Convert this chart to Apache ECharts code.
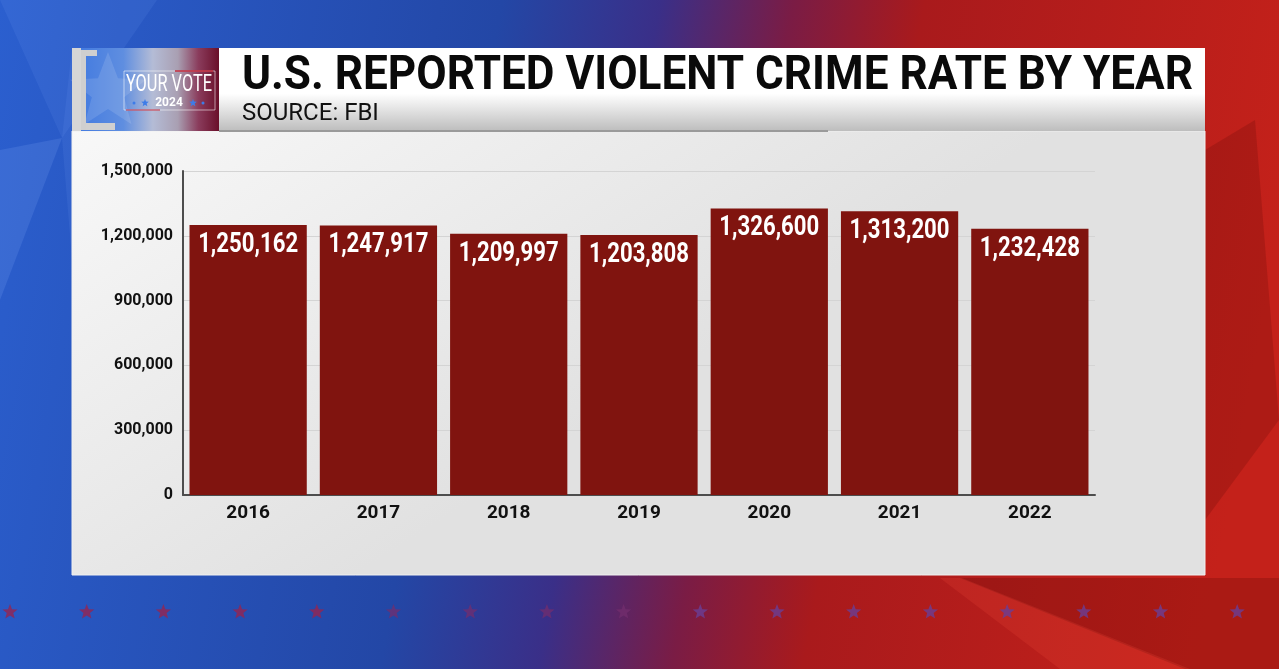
<!DOCTYPE html>
<html>
<head>
<meta charset="utf-8">
<script src="https://cdn.jsdelivr.net/npm/echarts@6/dist/echarts.min.js"></script>
<style>
  html, body { margin: 0; padding: 0; background: #1f3f9a; }
  #main { width: 1279px; height: 669px; }
</style>
</head>
<body>
<div id="main"></div>
<script>
// chart data
const years = ['2016', '2017', '2018', '2019', '2020', '2021', '2022'];
const crimes = [1250162, 1247917, 1209997, 1203808, 1326600, 1313200, 1232428];
const yMin = 0;
const yMax = 1500000;
const yStep = 300000;

const titleText = 'U.S. REPORTED VIOLENT CRIME RATE BY YEAR';
const sourceText = 'SOURCE: FBI';

function fmt(v) {
  return String(v).replace(/\B(?=(\d{3})+(?!\d))/g, ',');
}

// the broadcast font is condensed, so squeeze Roboto to the wanted width
const measureCtx = document.createElement('canvas').getContext('2d');
function squeeze(text, font, width) {
  measureCtx.font = font;
  return Math.min(1, width / measureCtx.measureText(text).width);
}
const titleFont = 'bold 49px Roboto';
const titleScale = squeeze(titleText, titleFont, 951);
const logoFont = '23px Roboto';
const logoScale = squeeze('YOUR VOTE', logoFont, 86);
const labelFont = 'bold 28px Roboto';
const labelScale = squeeze('1,209,997', labelFont, 100);

// 5 point star outline for the decorations
function starPts(cx, cy, R, r) {
  const pts = [];
  for (let i = 0; i < 10; i++) {
    const a = -Math.PI / 2 + i * Math.PI / 5;
    const d = i % 2 ? r : R;
    pts.push([cx + d * Math.cos(a), cy + d * Math.sin(a)]);
  }
  return pts;
}

const deco = [];

// page background
deco.push({
  type: 'rect', z: -100,
  shape: { x: 0, y: 0, width: 1279, height: 669 },
  style: {
    fill: {
      type: 'linear', x: 0, y: 0, x2: 1, y2: 0.35,
      colorStops: [
        { offset: 0, color: '#2b5fcf' },
        { offset: 0.38, color: '#2347a6' },
        { offset: 0.5, color: '#3a2f88' },
        { offset: 0.6, color: '#7a1c45' },
        { offset: 0.7, color: '#a91a1c' },
        { offset: 1, color: '#c4211a' }
      ]
    }
  }
});
// light facets top left
deco.push({ type: 'polygon', z: -99, shape: { points: [[0, 0], [157, 0], [62, 138]] }, style: { fill: 'rgba(140,180,255,0.10)' } });
deco.push({ type: 'polygon', z: -99, shape: { points: [[0, 150], [62, 138], [0, 300]] }, style: { fill: 'rgba(140,180,255,0.16)' } });
deco.push({ type: 'polygon', z: -99, shape: { points: [[62, 138], [72, 48], [72, 260]] }, style: { fill: 'rgba(140,180,255,0.10)' } });
// darker / lighter facets bottom right
deco.push({ type: 'polygon', z: -99, shape: { points: [[960, 578], [1279, 578], [1279, 669], [1185, 669]] }, style: { fill: 'rgba(70,0,0,0.2)' } });
deco.push({ type: 'polygon', z: -99, shape: { points: [[940, 578], [962, 578], [1190, 669], [1060, 669]] }, style: { fill: 'rgba(255,90,70,0.16)' } });
deco.push({ type: 'polygon', z: -99, shape: { points: [[1205, 150], [1255, 120], [1279, 420], [1205, 520]] }, style: { fill: 'rgba(70,0,0,0.18)' } });

// row of stars
for (let k = 0; k < 17; k++) {
  const x = 10 + 76.7 * k;
  const c = k <= 4 ? 'rgba(150,36,80,0.8)' : (k <= 8 ? 'rgba(115,45,110,0.75)' : 'rgba(105,62,150,0.8)');
  deco.push({ type: 'polygon', z: -98, shape: { points: starPts(x, 612, 8, 3.4) }, style: { fill: c } });
}

// chart panel
deco.push({
  type: 'rect', z: -90,
  shape: { x: 72, y: 131, width: 1133, height: 444 },
  style: {
    fill: {
      type: 'linear', x: 0, y: 0, x2: 0.25, y2: 1,
      colorStops: [{ offset: 0, color: '#f8f8f8' }, { offset: 1, color: '#e1e1e1' }]
    },
    stroke: '#f0f0f0', lineWidth: 1
  }
});
// header strip
deco.push({
  type: 'rect', z: -90,
  shape: { x: 219, y: 48, width: 986, height: 83 },
  style: {
    fill: {
      type: 'linear', x: 0, y: 0, x2: 0, y2: 1,
      colorStops: [{ offset: 0, color: '#ffffff' }, { offset: 0.55, color: '#ffffff' }, { offset: 1, color: '#bdbdbd' }]
    }
  }
});
deco.push({ type: 'rect', z: -89, shape: { x: 219, y: 130, width: 609, height: 2 }, style: { fill: '#9a9a9a' } });

// logo block
deco.push({
  type: 'rect', z: -90,
  shape: { x: 72, y: 48, width: 147, height: 83 },
  style: {
    fill: {
      type: 'linear', x: 0, y: 0, x2: 1, y2: 0,
      colorStops: [
        { offset: 0, color: '#3f78e0' },
        { offset: 0.35, color: '#5f8ee0' },
        { offset: 0.55, color: '#b4bcd6' },
        { offset: 0.72, color: '#a99fb2' },
        { offset: 0.86, color: '#8a3c5c' },
        { offset: 1, color: '#6a0f2a' }
      ]
    }
  }
});
deco.push({ type: 'polygon', z: -89, shape: { points: starPts(108, 92, 40, 17) }, style: { fill: 'rgba(255,255,255,0.12)' } });
// bracket
deco.push({ type: 'rect', z: -88, shape: { x: 72, y: 48, width: 9, height: 83 }, style: { fill: '#d6d6d6' } });
deco.push({ type: 'rect', z: -88, shape: { x: 81, y: 50, width: 16, height: 6 }, style: { fill: '#cfcfcf' } });
deco.push({ type: 'rect', z: -88, shape: { x: 81, y: 123, width: 34, height: 7 }, style: { fill: '#d0d0d0' } });
deco.push({ type: 'rect', z: -88, shape: { x: 81, y: 50, width: 5, height: 80 }, style: { fill: '#cfcfcf' } });
// inner frame of the logo
deco.push({ type: 'rect', z: -87, shape: { x: 124, y: 71, width: 91, height: 39 }, style: { fill: 'none', stroke: 'rgba(255,255,255,0.55)', lineWidth: 1 } });
deco.push({ type: 'line', z: -86, shape: { x1: 175, y1: 71, x2: 213, y2: 71 }, style: { stroke: '#c0283a', lineWidth: 1.5 } });
deco.push({ type: 'line', z: -86, shape: { x1: 126, y1: 110, x2: 160, y2: 110 }, style: { stroke: '#c0283a', lineWidth: 1 } });
deco.push({
  type: 'text', z: 10, x: 169, y: 85, scaleX: logoScale,
  style: { text: 'YOUR VOTE', x: 0, y: 0, align: 'center', verticalAlign: 'middle', fill: '#ffffff', font: logoFont }
});
deco.push({
  type: 'text', z: 10, x: 169, y: 103,
  style: { text: '2024', x: 0, y: 0, align: 'center', verticalAlign: 'middle', fill: '#ffffff', font: 'bold 12px Roboto' }
});
deco.push({ type: 'circle', z: 10, shape: { cx: 134, cy: 103, r: 1.5 }, style: { fill: '#3d7ce8' } });
deco.push({ type: 'polygon', z: 10, shape: { points: starPts(145, 103, 4, 1.7) }, style: { fill: '#3d7ce8' } });
deco.push({ type: 'polygon', z: 10, shape: { points: starPts(193, 103, 4, 1.7) }, style: { fill: '#3d7ce8' } });
deco.push({ type: 'circle', z: 10, shape: { cx: 203, cy: 103, r: 1.5 }, style: { fill: '#3d7ce8' } });

// title texts
deco.push({
  type: 'text', z: 10, x: 242, y: 77, scaleX: titleScale,
  style: { text: titleText, x: 0, y: 0, align: 'left', verticalAlign: 'middle', fill: '#0a0a0a', font: titleFont }
});
deco.push({
  type: 'text', z: 10, x: 242, y: 114,
  style: { text: sourceText, x: 0, y: 0, align: 'left', verticalAlign: 'middle', fill: '#111111', font: '24px Roboto' }
});

const chart = echarts.init(document.getElementById('main'));
const option = {
  animation: false,
  graphic: { elements: deco },
  grid: { left: 183, right: 184, top: 171, bottom: 174 },
  xAxis: {
    type: 'category',
    data: years,
    axisTick: { show: false },
    axisLine: { show: true, lineStyle: { color: '#4d4d4d', width: 2 } },
    axisLabel: { color: '#111', fontFamily: 'Roboto', fontWeight: 'bold', fontSize: 19, margin: 9 }
  },
  yAxis: {
    type: 'value',
    min: yMin,
    max: yMax,
    interval: yStep,
    axisTick: { show: false },
    axisLine: { show: true, lineStyle: { color: '#4d4d4d', width: 2 } },
    splitLine: { lineStyle: { color: '#d4d4d4', width: 1 } },
    axisLabel: {
      color: '#111', fontFamily: 'Roboto', fontWeight: 'bold', fontSize: 16, margin: 10,
      formatter: fmt
    }
  },
  series: [
    {
      type: 'bar',
      data: crimes,
      barCategoryGap: '10%',
      itemStyle: { color: '#80140f' }
    },
    {
      // value labels, condensed like the on-air font
      type: 'custom',
      data: crimes.map((v, i) => [i, v]),
      z: 5,
      silent: true,
      renderItem: (params, api) => {
        const p = api.coord([api.value(0), api.value(1)]);
        return {
          type: 'text',
          x: p[0],
          y: p[1] + 6,
          scaleX: labelScale,
          style: {
            text: fmt(api.value(1)),
            x: 0, y: 0,
            align: 'center',
            verticalAlign: 'top',
            fill: '#ffffff',
            font: labelFont
          }
        };
      }
    }
  ]
};
chart.setOption(option);
</script>
</body>
</html>
